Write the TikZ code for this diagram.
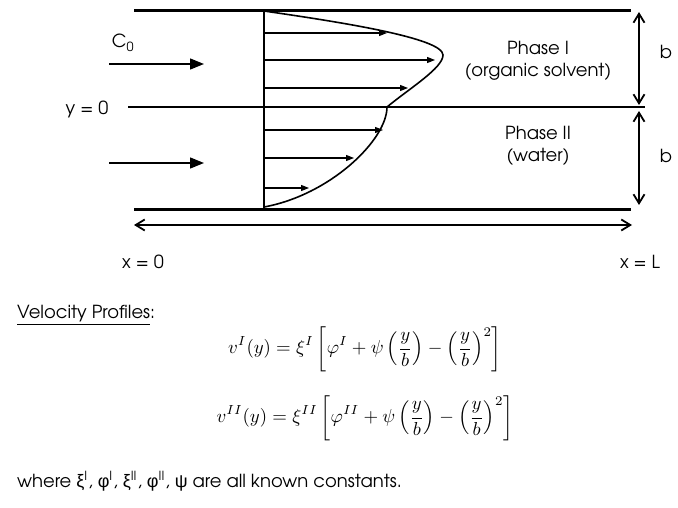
\documentclass[tikz,border=0pt]{standalone}
\usepackage{amsmath}
\usepackage{fontspec}
\setmainfont{TeX Gyre Adventor}
\newfontfamily\greekfont{Liberation Sans}
\usetikzlibrary{arrows.meta}

\begin{document}
\begin{tikzpicture}[x=1pt, y=-1pt,
	wall/.style={line width=3pt},
	inflow/.style={line width=1.4pt, -{Triangle[length=14pt,width=11pt]}},
	vel/.style={line width=1.1pt, -{Triangle[length=8pt,width=6pt]}},
	dim/.style={line width=1.8pt, {Straight Barb[length=9pt,width=11pt]}-{Straight Barb[length=9pt,width=11pt]}},
	lbl/.style={font=\fontsize{18}{22}\selectfont, inner sep=0pt}]
	\useasboundingbox (0,0) rectangle (678,508);
	
	\draw [wall] (134,11) -- (631,11);
	\draw [wall] (134,210) -- (631,210);
	\draw [line width=2pt] (264,10) -- (264,208);
	\draw [line width=1.2pt] (128,107) -- (645,107);
	
	% velocity profile
	\draw [line width=1.6pt] (264,11) .. controls (340,22) and (443,38) .. (443,55)
	.. controls (443,68) and (410,88) .. (387,107)
	.. controls (387,140) and (330,195) .. (264,207);
	
	\foreach \yy/\xx [count=\i] in {33/387, 60/435, 88/408, 130/383, 158/354, 188/309}
	{
	\coordinate (v0-\i) at (264,\yy);
	\coordinate (v1-\i) at (\xx,\yy);
	}
	
	\foreach \i in {1,...,6}
	\draw [vel] (v0-\i) -- (v1-\i);
	
	\foreach \m/\yy in {1/64, 2/163}
	{
	\coordinate (in0-\m) at (109,\yy);
	\coordinate (in1-\m) at (204,\yy);
	}
	
	\foreach \m in {1,2}
	\draw [inflow] (in0-\m) -- (in1-\m);
	
	\coordinate (len-a) at (134,225);
	\coordinate (len-b) at (632,225);
	\draw [dim] (len-a) -- (len-b);
	
	\coordinate (b-1) at (639,12);
	\coordinate (b-2) at (639,105);
	\coordinate (b-3) at (639,111);
	\coordinate (b-4) at (639,205);
	\draw [dim] (b-1) -- (b-2);
	\draw [dim] (b-3) -- (b-4);
	
	\node [lbl] (c0) at (123,43) {C\textsubscript{0}};
	\node [lbl] (y0) at (87,109) {y = 0};
	\node [lbl] (x0) at (143,262) {x = 0};
	\node [lbl] (xL) at (640,262) {x = L};
	\node [lbl, align=center] (phase1) at (538,61) {Phase I\\(organic solvent)};
	\node [lbl, align=center] (phase2) at (538,146) {Phase II\\(water)};
	\node [lbl] (b1) at (666,52) {b};
	\node [lbl] (b2) at (666,156) {b};
	
	\node [lbl, anchor=base west] (title) at (17,318) {\underline{Velocity Profiles}:};
	
	\node [scale=1.88, transform shape] (eq1) at (365,349)
	{$\displaystyle v^{I}(y) = \xi^{I}\left[\varphi^{I} + \psi\left(\frac{y}{b}\right) - \left(\frac{y}{b}\right)^{2}\right]$};
	\node [scale=1.88, transform shape] (eq2) at (365,418)
	{$\displaystyle v^{II}(y) = \xi^{II}\left[\varphi^{II} + \psi\left(\frac{y}{b}\right) - \left(\frac{y}{b}\right)^{2}\right]$};
	
	\node [lbl, anchor=base west] (note) at (17,487)
	{where {\greekfont ξ}\textsuperscript{I}, {\greekfont φ}\textsuperscript{I}, {\greekfont ξ}\textsuperscript{II}, {\greekfont φ}\textsuperscript{II}, {\greekfont ψ} are all known constants.};
\end{tikzpicture}
\end{document}
